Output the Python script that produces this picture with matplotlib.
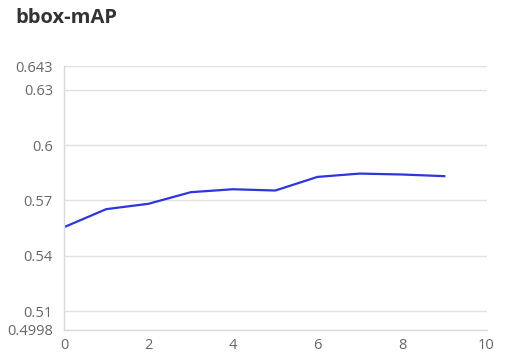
import matplotlib
matplotlib.use('Agg')
import matplotlib.pyplot as plt

# data
epochs = [0, 1, 2, 3, 4, 5, 6, 7, 8, 9]
bbox_map = [0.5555, 0.5653, 0.5682, 0.5745, 0.5761, 0.5754, 0.5828, 0.5846, 0.5841, 0.5832]
y_ticks = [0.4998, 0.51, 0.54, 0.57, 0.6, 0.63, 0.643]
y_labels = ['0.4998', '0.51', '0.54', '0.57', '0.6', '0.63', '0.643']
x_ticks = [0, 2, 4, 6, 8, 10]

plt.rcParams['font.family'] = ['Open Sans', 'DejaVu Sans']

fig = plt.figure(figsize=(5.10, 3.59), dpi=100)
ax = fig.add_axes([64 / 510, (359 - 329.8) / 359, (486.5 - 64) / 510, (329.8 - 66) / 359])

ax.plot(epochs, bbox_map, color='#2d36dc', lw=1.6)

ax.set_xlim(0, 10)
ax.set_ylim(0.4998, 0.643)
ax.set_yticks(y_ticks)
ax.set_yticklabels(y_labels)
ax.set_xticks(x_ticks)

ax.grid(axis='y', color='#e0e0e0', lw=1)
ax.set_axisbelow(True)
for s in ['top', 'right']:
    ax.spines[s].set_visible(False)
for s in ['left', 'bottom']:
    ax.spines[s].set_color('#d9d9d9')
    ax.spines[s].set_linewidth(1)

ax.tick_params(axis='y', length=0, pad=8, labelsize=10.5, labelcolor='#666666')
ax.tick_params(axis='x', length=0, pad=6, labelsize=10.5, labelcolor='#666666')

fig.text(15 / 510, 1 - 18 / 359, 'bbox-mAP', fontsize=14.5, fontweight='bold',
         color='#333333', ha='left', va='center')

fig.savefig('out.png', dpi=100)
